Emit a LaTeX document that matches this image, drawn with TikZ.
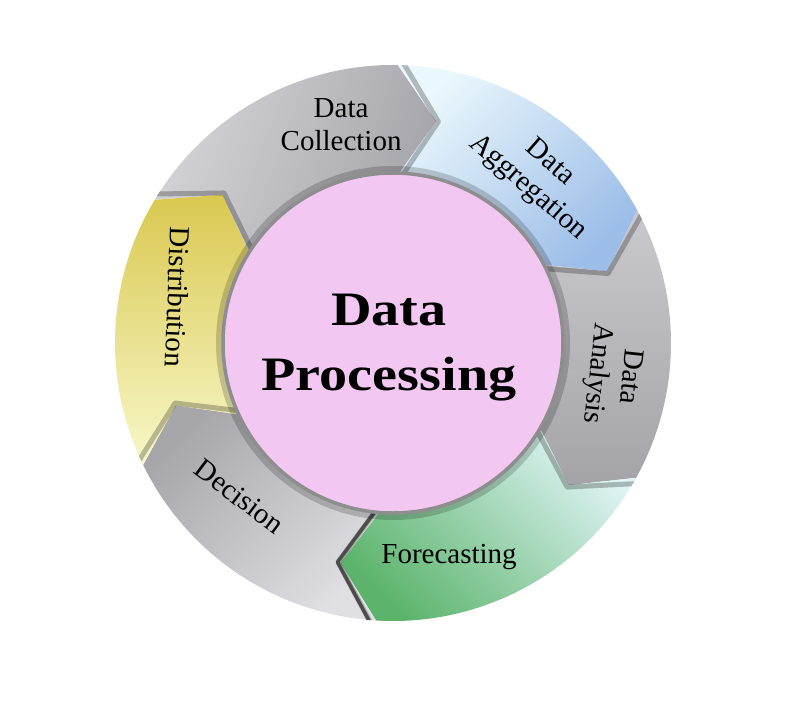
\documentclass[tikz,border=0pt]{standalone}
\usepackage{fontspec}
\setmainfont{Liberation Serif}
\definecolor{collA}{HTML}{D4D4D8}
\definecolor{collB}{HTML}{A4A4AA}
\definecolor{aggA}{HTML}{EAF7FC}
\definecolor{aggB}{HTML}{9DBEE8}
\definecolor{anaA}{HTML}{CACACE}
\definecolor{anaB}{HTML}{A3A3A8}
\definecolor{foreA}{HTML}{5CB46C}
\definecolor{foreB}{HTML}{E0F4F6}
\definecolor{decA}{HTML}{A6A6AB}
\definecolor{decB}{HTML}{E0E0E4}
\definecolor{distA}{HTML}{D9C850}
\definecolor{distB}{HTML}{F8F8CA}
\definecolor{hubpink}{HTML}{F2C8F2}
\definecolor{hubrim}{HTML}{8E8E8E}
\tikzset{
  seglabel/.style={align=center, inner sep=0pt, font=\fontsize{29}{33}\selectfont},
  tipshadow/.style={line width=5pt, black, opacity=.25, line join=round},
}
\begin{document}
\begin{tikzpicture}[x=1pt,y=1pt]
  \useasboundingbox (-393,-373) rectangle (407,343);
  % ring segments: start, end, first colour, second colour, shading angle
  \foreach \s/\e/\ca/\cb/\a in {149/89/collA/collB/70, 89/28.5/aggA/aggB/45,
      28.5/-29/anaA/anaB/0, -29/-93.5/foreA/foreB/135,
      -93.5/-154/decA/decB/45, 206/149/distA/distB/0}
    \shade[top color=\ca, bottom color=\cb, shading angle=\a]
      (\s:278) arc[start angle=\s, end angle=\e, radius=278]
      -- (\e-10:226) -- (\e:165)
      arc[start angle=\e, end angle=\s, radius=165]
      -- (\s-10:226) -- cycle;
  \begin{scope}
    \clip (0,0) circle (278);
    \foreach \e in {89, 28.5, -29, -93.5, -154, 149}
      \draw[tipshadow] (\e-0.5:285) -- (\e-10.6:226) -- (\e-0.5:160);
    \draw[line width=3.5pt, black!70, line join=round]
      (-94.1:285) -- (-104.2:226) -- (-94.1:160);
  \end{scope}
  % hub
  \fill[black, opacity=.18] (0,0) circle (177);
  \node[circle, minimum size=340pt, fill=hubpink, draw=hubrim, line width=3.5pt] (hub) at (0,0) {};
  \node[align=center, inner sep=0pt, xscale=1.17, transform shape,
    font=\bfseries\fontsize{48}{65}\selectfont] (title) at (-4,-5) {Data\\Processing};
  % labels
  \node[seglabel] (collect) at (103.4:224) {Data\\Collection};
  \node[seglabel, rotate=-41] (aggreg) at (49:222) {Data\\Aggregation};
  \node[seglabel, rotate=-96] (analys) at (-8.3:222) {Data\\Analysis};
  \node[seglabel] (forecast) at (-75.3:221) {Forecasting};
  \node[seglabel, rotate=-37] (decide) at (225:217) {Decision};
  \node[seglabel, rotate=-92] (distrib) at (168:220) {Distribution};
\end{tikzpicture}
\end{document}
